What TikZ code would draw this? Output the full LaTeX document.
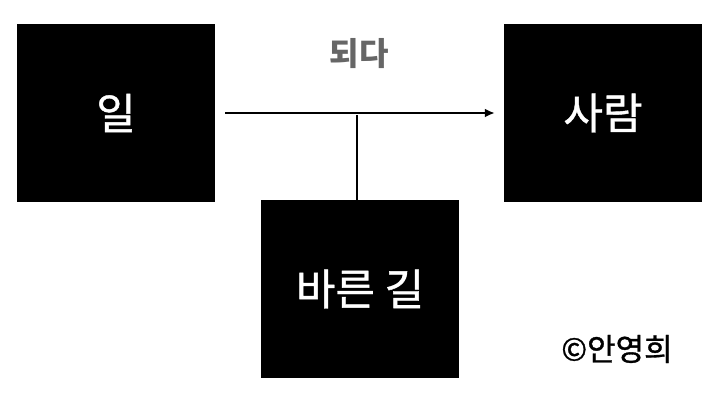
\documentclass[tikz,border=0pt]{standalone}
\usepackage{fontspec}
\setmainfont{Noto Sans CJK KR}
\newfontfamily\krmed[FakeBold=1]{Noto Sans CJK KR}
\usepackage{tikz}
\usetikzlibrary{arrows.meta}

\tikzset{
    termbox/.style={fill=black,text=white,minimum width=198pt,minimum height=178pt,
        inner sep=0pt,font=\krmed\fontsize{43}{43}\selectfont},
}

\begin{document}
\begin{tikzpicture}[x=1pt,y=-1pt]
        \useasboundingbox (0,0) rectangle (716,408);

        \node[termbox] (il) at (116,113){일};
        \node[termbox] (saram) at (603,113){사람};
        \node[termbox] (gil) at (360,289){바른 길};

        \draw[-{Latex[length=10pt,width=9pt]},line width=2pt]
        ([xshift=10pt]il.east) -- ([xshift=-9pt]saram.west);
        \node[text=black!60,font=\fontsize{32}{32}\selectfont\bfseries] (doeda) at (359,54){되다};

        \coordinate (meet) at (357,115);
        \draw[line width=2pt] (gil.north -| meet) -- (meet);

        \node[font=\krmed\fontsize{31}{31}\selectfont] (copy) at (617,349){©안영희};
    \end{tikzpicture}
\end{document}
